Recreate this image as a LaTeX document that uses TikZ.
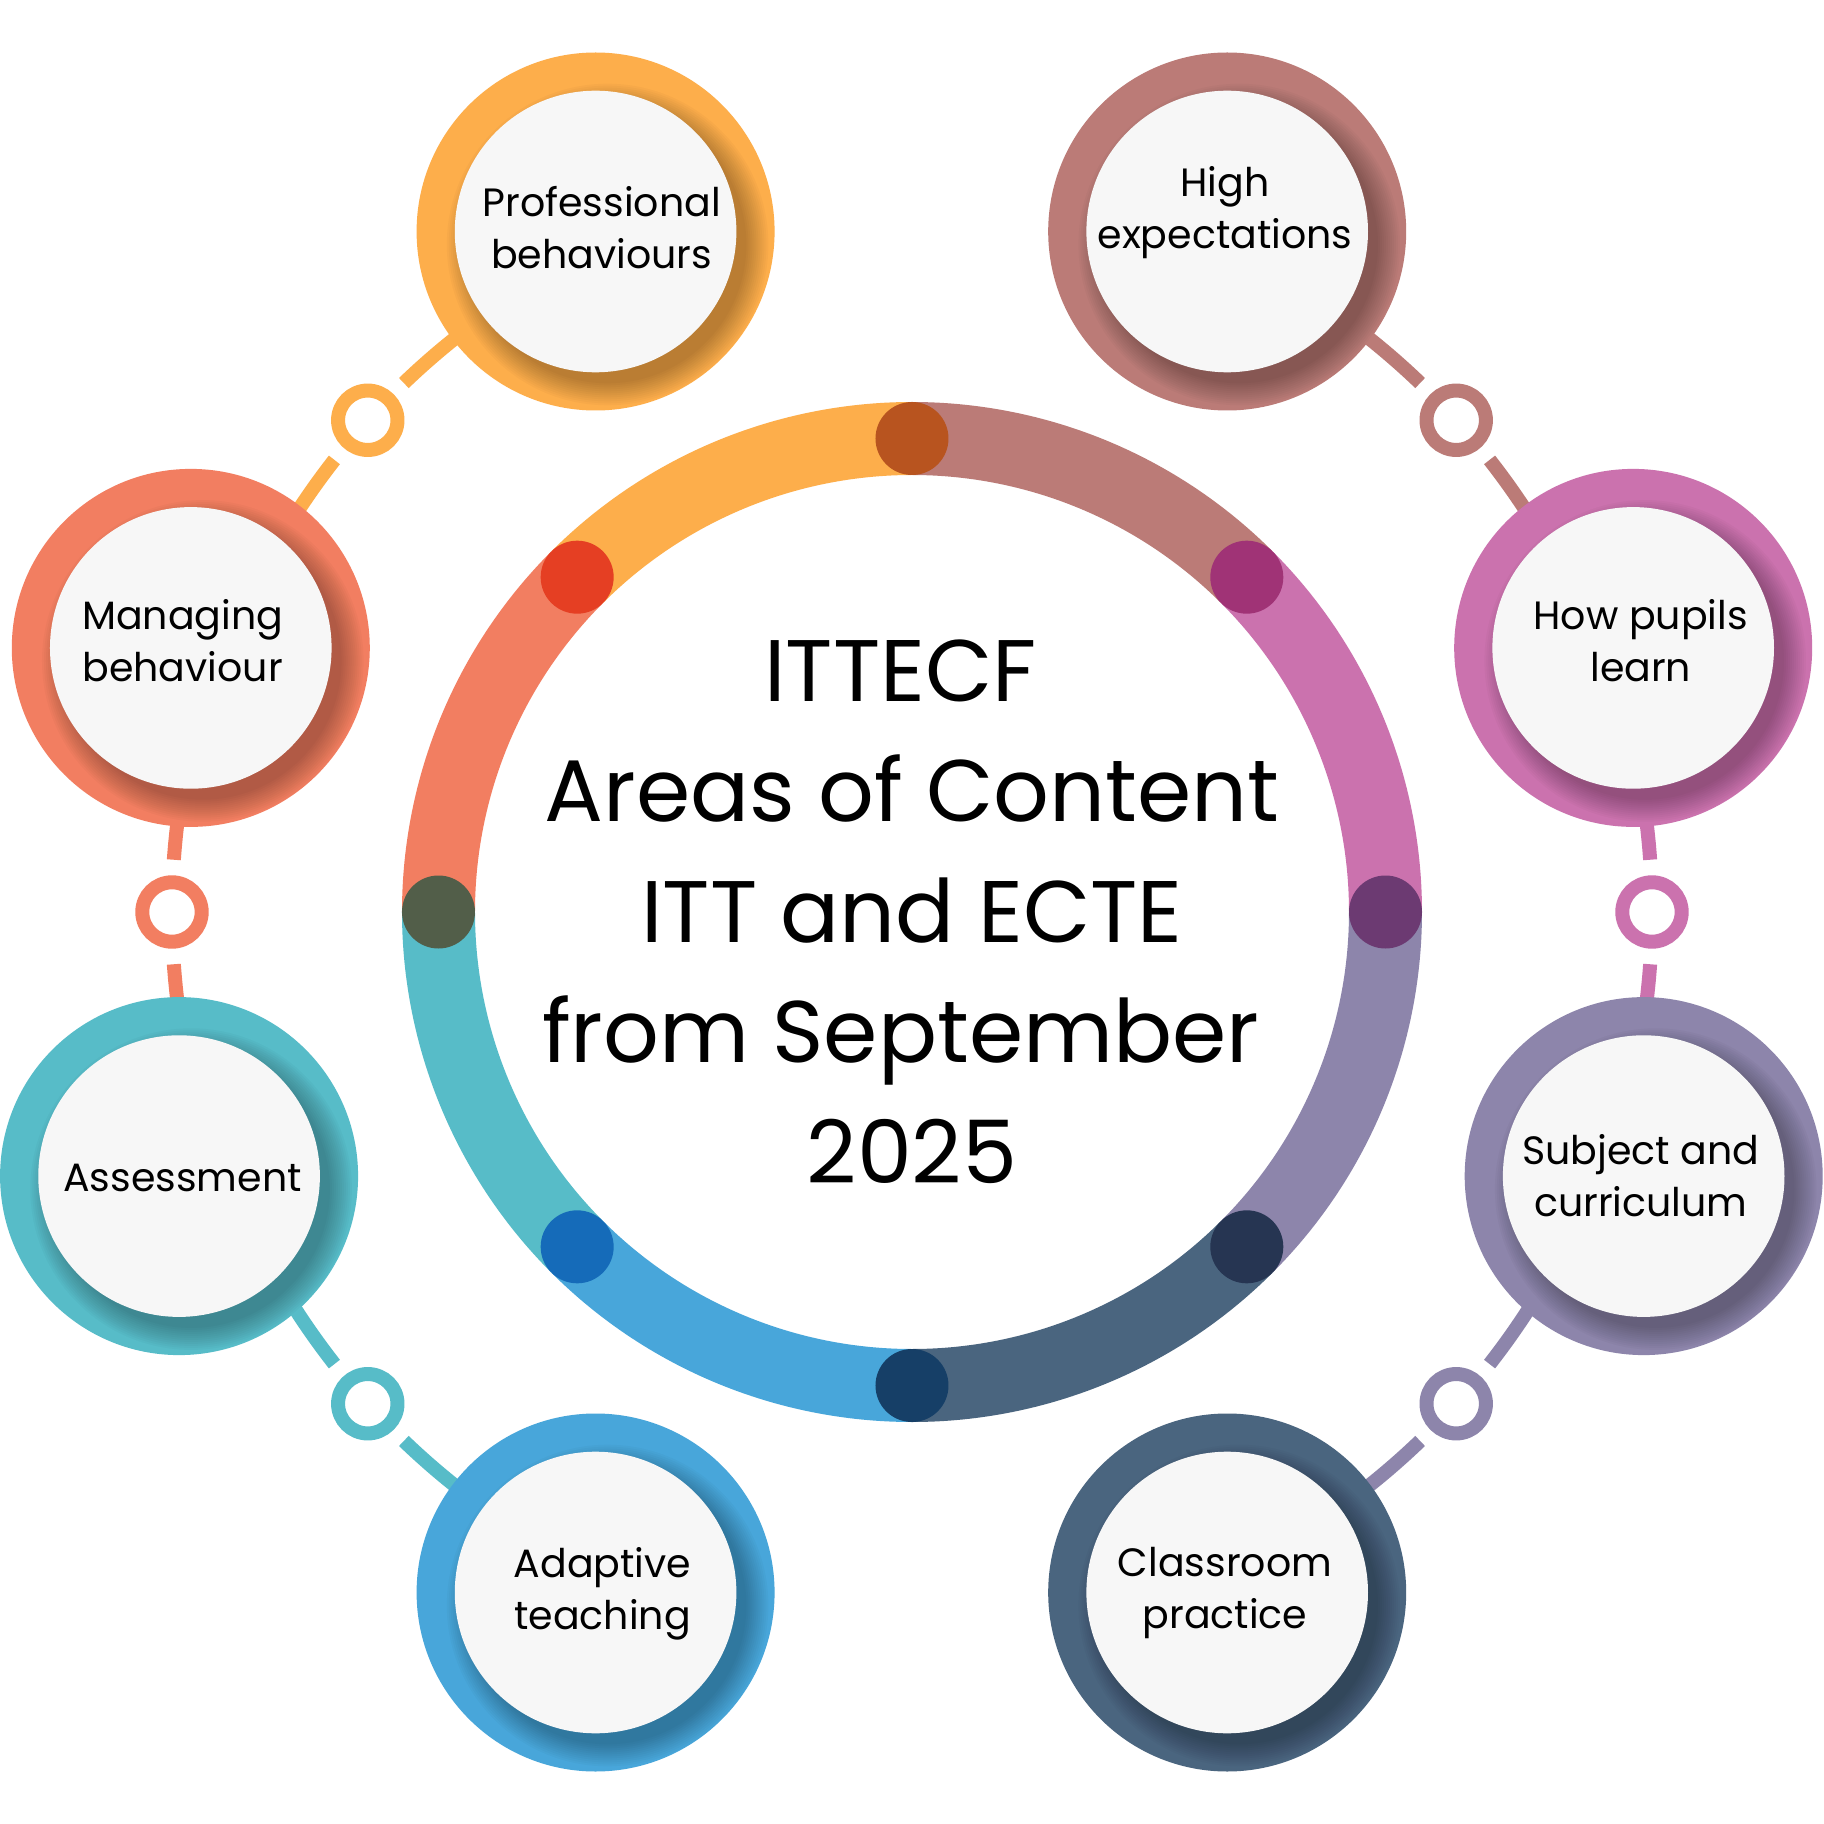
\documentclass[tikz,border=0pt]{standalone}
\usepackage{fontspec}
\setmainfont{Poppins}
\usetikzlibrary{calc}
\definecolor{cOrange}{HTML}{FDAE4B}
\definecolor{cRose}{HTML}{BB7B77}
\definecolor{cPink}{HTML}{CB72AE}
\definecolor{cPurple}{HTML}{8D85AB}
\definecolor{cSlate}{HTML}{4A657F}
\definecolor{cBlue}{HTML}{48A6DA}
\definecolor{cTeal}{HTML}{57BCC8}
\definecolor{cSalmon}{HTML}{F27E61}
\definecolor{dTop}{HTML}{B8541F}
\definecolor{dTL}{HTML}{E53F23}
\definecolor{dTR}{HTML}{A03376}
\definecolor{dR}{HTML}{6C3A72}
\definecolor{dBR}{HTML}{263552}
\definecolor{dB}{HTML}{163F67}
\definecolor{dBL}{HTML}{156BB9}
\definecolor{dL}{HTML}{525E49}
\definecolor{inner}{HTML}{F7F7F7}
\newcommand{\mylbl}[1]{\begin{tabular}[t]{@{}c@{}}#1\end{tabular}}
\tikzset{
  bigdisc/.style={circle, inner sep=0, minimum size=358, draw=none},
  innerdisc/.style={circle, inner sep=0, minimum size=281.6, fill=inner, draw=none},
  smallring/.style={circle, inner sep=0, minimum size=59.4, line width=14, fill=white},
  conn/.style={line width=14, line cap=butt},
  seg/.style={line width=73, line cap=butt},
  ringdot/.style={circle, inner sep=0, minimum size=73, draw=none},
  lbl/.style={anchor=base, inner sep=0, font=\fontsize{39.5}{52}\selectfont},
  ctr/.style={anchor=base, inner sep=0, font=\fontsize{87.4}{120.4}\selectfont}
}
\begin{document}
\begin{tikzpicture}[x=1pt,y=1pt]
\useasboundingbox (-912,-912) rectangle (912,912);
\fill[white] (-912,-912) rectangle (912,912);
\coordinate (O) at (0,0);

% connectors (arcs through the small rings)
\foreach \n/\a/\r/\col in {sA/137.9/733.5/cOrange, sB/180/740/cSalmon, sC/222.1/733.5/cTeal, sD/42.1/733.5/cRose, sE/0/740/cPink, sF/-42.1/733.5/cPurple}{
  \coordinate (\n-u) at ($(O)+({\a+4.05}:\r)$);
  \coordinate (\n-d) at ($(O)+({\a-4.05}:\r)$);
  \draw[conn, \col] (\n-u) arc[start angle={\a+4.05}, end angle={\a+20}, radius=\r];
  \draw[conn, \col] (\n-d) arc[start angle={\a-4.05}, end angle={\a-20}, radius=\r];
  \node[smallring, draw=\col] (\n) at ($(O)+(\a:\r)$) {};
}

% big circles
\foreach \n/\x/\y/\col in {prof/-316.4/680.5/cOrange, high/315.2/680.5/cRose, mng/-721.2/264.1/cSalmon, hpl/721.2/264.1/cPink, ass/-732.9/-264.1/cTeal, sub/731.7/-264.1/cPurple, ada/-316.4/-680.5/cBlue, cls/315.2/-680.5/cSlate}{
  \node[bigdisc, fill=\col] (\n) at (\x,\y) {};
  \begin{scope}
    \clip (\x,\y) circle (179);
    \foreach \k in {0,...,11}{
      \fill[black, opacity=0.022] (\x+12,\y-13) circle ({140.8+20-2*\k});
    }
  \end{scope}
  \node[innerdisc] (\n-in) at (\x,\y) {};
}

% central ring
\foreach \s/\e/\col in {90/45/cRose, 45/0/cPink, 0/-45/cPurple, -45/-90/cSlate, -90/-135/cBlue, -135/-180/cTeal, 180/135/cSalmon, 135/90/cOrange}{
  \draw[seg, \col] ($(O)+(\s:473.5)$) arc[start angle=\s, end angle=\e, radius=473.5];
}
\foreach \n/\a/\col in {d1/90/dTop, d2/135/dTL, d3/45/dTR, d4/0/dR, d5/-45/dBR, d6/-90/dB, d7/-135/dBL, d8/180/dL}{
  \node[ringdot, fill=\col] (\n) at ($(O)+(\a:473.5)$) {};
}

% labels
\node[lbl] (tprof) at (-310.3,695.3) {\mylbl{Professional\\behaviours}};
\node[lbl] (thigh) at (313,715.3) {\mylbl{High\\expectations}};
\node[lbl] (tmng) at (-729.4,282.7) {\mylbl{Managing\\behaviour}};
\node[lbl] (thpl) at (728.8,282.7) {\mylbl{How pupils\\learn}};
\node[lbl] (tass) at (-729.5,-279.7) {\mylbl{Assessment}};
\node[lbl] (tsub) at (728.8,-252) {\mylbl{Subject and\\curriculum}};
\node[lbl] (tada) at (-309.4,-665.4) {\mylbl{Adaptive\\teaching}};
\node[lbl] (tcls) at (313,-664) {\mylbl{Classroom\\practice}};

\node[ctr] (title) at (0,210.5) {\mylbl{ITTECF\hspace*{.26em}\\Areas of Content\\ITT and ECTE\\from September\hspace*{.26em}\\2025}};
\end{tikzpicture}
\end{document}
